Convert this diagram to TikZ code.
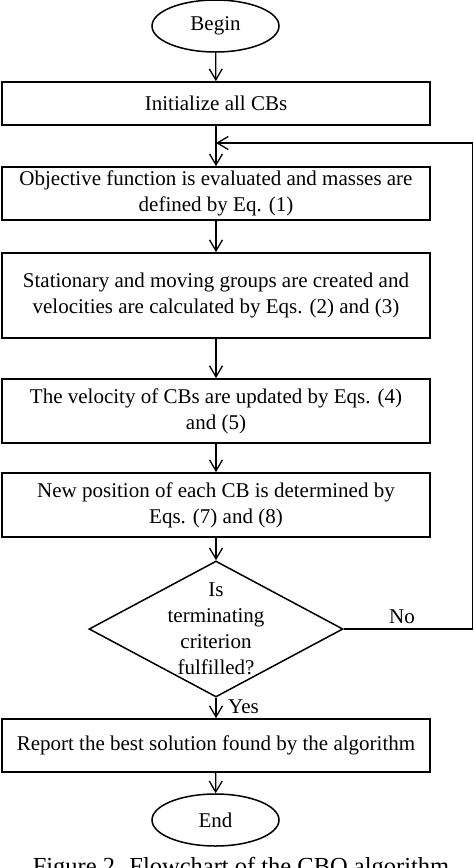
\documentclass[tikz,border=0pt]{standalone}
\usepackage{fontspec}
\setmainfont{Liberation Serif}
\usetikzlibrary{shapes.geometric}
\usetikzlibrary{arrows.meta}
\tikzstyle{NodeTerm}=[ellipse,draw,line width=1.5pt,minimum width=127pt,minimum height=52pt,
inner sep=0pt,font=\fontsize{21}{26}\selectfont]
\tikzstyle{NodeBox}=[rectangle,draw,line width=1.8pt,minimum width=428pt,inner sep=0pt,
align=center,font=\fontsize{21}{26}\selectfont]
\tikzstyle{NodeTest}=[diamond,draw,line width=1.5pt,minimum width=254pt,minimum height=136pt,
inner sep=0pt]
\tikzstyle{EdgeFlow}=[line width=1.3pt,-{Straight Barb[length=11pt,width=13pt]}]
\tikzstyle{LabelFlow}=[inner sep=0pt,font=\fontsize{21}{26}\selectfont]

\begin{document}
\begin{tikzpicture}[x=1pt,y=-1pt]
        \useasboundingbox(0,0)rectangle(474,868);
        \clip(0,0)rectangle(474,868);
        \node[NodeTerm](b)at(215.5,26){Begin};
        \node[NodeBox,minimum height=43pt](i)at(216,103.5){Initialize all CBs};
        \node[NodeBox,minimum height=53pt](o)at(216,193.5){Objective function is evaluated and masses are\\defined by Eq. (1)};
        \node[NodeBox,minimum height=85pt](s)at(216,295.5){Stationary and moving groups are created and\\velocities are calculated by Eqs. (2) and (3)};
        \node[NodeBox,minimum height=64pt](v)at(216,411){The velocity of CBs are updated by Eqs. (4)\\and (5)};
        \node[NodeBox,minimum height=64pt](p)at(216,505){New position of each CB is determined by\\Eqs. (7) and (8)};
        \node[NodeTest,label={[LabelFlow,align=center]center:Is\\terminating\\criterion\\fulfilled?}](t)at(216,629){};
        \node[NodeBox,minimum height=53pt](r)at(216,745.5){Report the best solution found by the algorithm};
        \node[NodeTerm](e)at(215.5,820){End};
        \node[LabelFlow](no)at(402,617){No};
        \node[LabelFlow](yes)at(243.5,707){Yes};
        \node[font=\fontsize{24.5}{29}\selectfont,anchor=base](cap)at(241,874){Figure 2. Flowchart of the CBO algorithm};
        \coordinate(r1)at(472.5,629);
        \coordinate(r2)at(472.5,143);
        \coordinate(j)at(216,143);
        \draw[EdgeFlow](b)--(i);
        \draw[EdgeFlow](i)--(o);
        \draw[EdgeFlow](o)--(s);
        \draw[EdgeFlow](s)--(v);
        \draw[EdgeFlow](v)--(p);
        \draw[EdgeFlow](p)--(t);
        \draw[EdgeFlow](t)--(r);
        \draw[EdgeFlow](r)--(e);
        \draw[EdgeFlow](t.east)--(r1)--(r2)--(j);
    \end{tikzpicture}
\end{document}
